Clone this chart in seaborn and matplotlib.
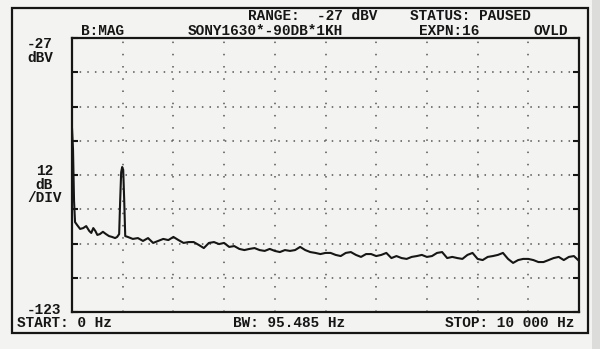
import matplotlib
matplotlib.use("Agg")
import matplotlib.pyplot as plt
import seaborn as sns
import pandas as pd
from matplotlib.patches import Rectangle

FREQ_HZ = [0, 20, 40, 60, 100, 160, 220, 280, 340, 380, 420, 460, 500, 550,
           610, 670, 730, 790, 850, 890, 930, 950, 970, 990, 1010, 1030, 1050,
           1100, 1200, 1300, 1400, 1500, 1600, 1700, 1800, 1900, 2000,
           2100, 2200, 2300, 2400, 2500, 2600, 2700, 2800, 2900, 3000,
           3100, 3200, 3300, 3400, 3500, 3600, 3700, 3800, 3900, 4000,
           4100, 4200, 4300, 4400, 4500, 4600, 4700, 4800, 4900, 5000,
           5100, 5200, 5300, 5400, 5500, 5600, 5700, 5800, 5900, 6000,
           6100, 6200, 6300, 6400, 6500, 6600, 6700, 6800, 6900, 7000,
           7100, 7200, 7300, 7400, 7500, 7600, 7700, 7800, 7900, 8000,
           8100, 8200, 8300, 8400, 8500, 8600, 8700, 8800, 8900, 9000,
           9100, 9200, 9300, 9400, 9500, 9600, 9700, 9800, 9900, 10000]
LEVEL_DBV = [-58.5, -66.0, -84.0, -91.5, -92.5, -93.9, -93.6, -92.9, -94.6, -95.3,
             -93.6, -94.6, -96.0, -95.7, -94.9, -95.7, -96.4, -96.7, -97.1, -96.7,
             -95.7, -84.0, -74.0, -72.2, -73.2, -84.0, -96.4,
             -96.7, -97.4, -97.1, -98.1, -97.1, -98.8, -98.1, -97.4, -97.8, -96.7,
             -97.8, -98.8, -98.5, -98.5, -99.5, -100.6, -98.8, -98.5, -99.2, -98.8,
             -100.2, -99.9, -100.9, -101.3, -100.9, -100.6, -101.3, -101.6, -100.9, -101.6,
             -102.0, -101.3, -101.6, -101.3, -100.2, -101.3, -102.0, -102.3, -102.7, -102.3,
             -102.3, -103.0, -103.4, -102.3, -102.0, -103.0, -103.7, -102.7, -102.7, -103.4,
             -103.0, -102.3, -104.1, -103.4, -104.1, -104.4, -103.7, -103.4, -103.0, -103.7,
             -103.4, -102.3, -102.0, -104.1, -103.7, -104.1, -104.4, -103.0, -102.3, -104.4,
             -104.8, -103.7, -103.4, -103.0, -102.3, -104.4, -105.8, -104.8, -104.4, -104.4,
             -104.8, -105.5, -105.5, -104.8, -104.1, -103.7, -104.8, -103.7, -103.4, -105.1]

Y_TOP, Y_BOTTOM, DB_PER_DIV = -27, -123, 12
F_START, F_STOP, F_DIV = 0, 10000, 1000

HEADER_1 = [("RANGE:  -27 dBV", 248, 16), ("STATUS: PAUSED", 410, 16)]
HEADER_2 = [("B:MAG", 81, 31), ("SONY1630*-90DB*1KH", 188, 31),
            ("EXPN:16", 419, 31), ("OVLD", 533, 31)]
LEFT_BLOCKS = [("-27\ndBV", 27, 51, "left"), ("12\ndB\n/DIV", 27, 184.5, "center")]
LEFT_SINGLE = [("-123", 27, 309.5)]
FOOTER = [("START: 0 Hz", 17, 323), ("BW: 95.485 Hz", 233, 323),
          ("STOP: 10 000 Hz", 445, 323)]

# ---------------- figure ----------------
sns.set_theme(style="white")
plt.rcParams['font.family'] = ['Liberation Mono', 'DejaVu Sans Mono']

W, H = 600, 349
BG = "#f3f3f1"
INK = "#161616"
FS = 10.4
fig = plt.figure(figsize=(W / 100, H / 100), dpi=100, facecolor=BG)

L, R, T, B = 72, 579, 38, 312
ax = fig.add_axes([L / W, 1 - B / H, (R - L) / W, (B - T) / H])
ax.set_facecolor(BG)

df = pd.DataFrame({"freq": FREQ_HZ, "level": LEVEL_DBV})
sns.lineplot(data=df, x="freq", y="level", ax=ax, color=INK, lw=1.5,
             estimator=None, sort=False, legend=False)

ax.set_xlim(F_START, F_STOP)
ax.set_ylim(Y_BOTTOM, Y_TOP)
ax.set_xticks(list(range(F_START, F_STOP + 1, F_DIV)))
ax.set_yticks(list(range(Y_BOTTOM, Y_TOP + 1, DB_PER_DIV)))
ax.set_xlabel("")
ax.set_ylabel("")
ax.tick_params(axis="x", length=0, labelbottom=False)
ax.tick_params(axis="y", direction="in", length=4, width=1.5, color=INK,
               left=True, right=True, labelleft=False)
ax.xaxis.grid(True, color="#555555", lw=1.1, linestyle=(0, (1, 7)))
ax.yaxis.grid(True, color="#555555", lw=1.1, linestyle=(0, (1, 4)))
for s in ax.spines.values():
    s.set_color(INK)
    s.set_linewidth(1.6)

# outer frame of the screen
fig.add_artist(Rectangle((12 / W, 1 - 333 / H), (588 - 12) / W, (333 - 8) / H,
                         transform=fig.transFigure, fill=False, ec=INK, lw=1.6))
fig.add_artist(Rectangle((592 / W, 0), 8 / W, 1, transform=fig.transFigure,
                         fc="#dcdcda", ec="none"))

for txt, x, y in HEADER_1 + HEADER_2 + LEFT_SINGLE + FOOTER:
    fig.text(x / W, 1 - y / H, txt, ha="left", va="center", fontsize=FS,
             fontweight="bold", color=INK)
for txt, x, y, malign in LEFT_BLOCKS:
    fig.text(x / W, 1 - y / H, txt, ha="left", va="center", fontsize=FS,
             fontweight="bold", color=INK, multialignment=malign,
             linespacing=0.92)

fig.savefig("out.png", dpi=100, facecolor=BG)
